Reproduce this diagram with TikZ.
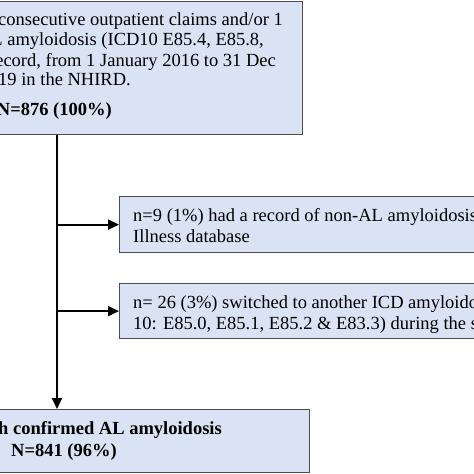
\documentclass[tikz,border=0pt]{standalone}
\usepackage{fontspec}
\setmainfont{Liberation Serif}
\usetikzlibrary{arrows.meta}
\definecolor{boxfill}{RGB}{218,227,243}
\definecolor{boxline}{RGB}{75,75,80}

\begin{document}
\begin{tikzpicture}[x=1pt,y=-1pt,
  box/.style={draw=boxline,line width=1.2pt,fill=boxfill,inner sep=0pt},
  txt/.style={font=\fontsize{18.5}{21}\selectfont,inner sep=0pt},
  bold/.style={txt,font=\fontsize{18.5}{21}\selectfont\bfseries},
  arr/.style={line width=1.8pt,-{Triangle[length=11pt,width=10pt]}}]
  \useasboundingbox (0,0) rectangle (474,474);
  \clip (0,0) rectangle (474,474);
  % eligible patients
  \node[box,anchor=north east,minimum width=450pt,minimum height=133pt] (elig) at (303,1) {};
  \node[txt,anchor=base east] (elig1) at (283,25) {consecutive outpatient claims and/or 1};
  \node[txt,anchor=base east] (elig2) at (264,45) {AL amyloidosis (ICD10 E85.4, E85.8,};
  \node[txt,anchor=base east] (elig3) at (276,66) {record, from 1 January 2016 to 31 Dec};
  \node[txt,anchor=base east] (elig4) at (131,85) {2019 in the NHIRD.};
  \node[bold,anchor=base east] (elign) at (112,115) {N=876 (100\%)};
  % exclusions
  \node[box,anchor=north west,minimum width=450pt,minimum height=56pt] (excla) at (119,196) {};
  \node[txt,anchor=base west] (excla1) at (133,221) {n=9 (1\%) had a record of non-AL amyloidosis};
  \node[txt,anchor=base west] (excla2) at (133,242) {Illness database};
  \node[box,anchor=north west,minimum width=450pt,minimum height=55pt] (exclb) at (119,283) {};
  \node[txt,anchor=base west] (exclb1) at (133,308) {n= 26 (3\%) switched to another ICD amyloidosis};
  \node[txt,anchor=base west] (exclb2) at (133,329) {10: E85.0, E85.1, E85.2 \& E83.3) during the study};
  % confirmed cases
  \node[box,anchor=north east,minimum width=450pt,minimum height=63pt] (final) at (310,409) {};
  \node[bold,anchor=base east] (final1) at (222,434) {with confirmed AL amyloidosis};
  \node[bold,anchor=base] (finaln) at (64,456) {N=841 (96\%)};
  % flow
  \coordinate (trunk) at (57,0);
  \draw[arr] (elig.south -| trunk) -- (final.north -| trunk);
  \draw[arr] (trunk |- excla.west) -- (excla.west);
  \draw[arr] (trunk |- exclb.west) -- (exclb.west);
\end{tikzpicture}
\end{document}
